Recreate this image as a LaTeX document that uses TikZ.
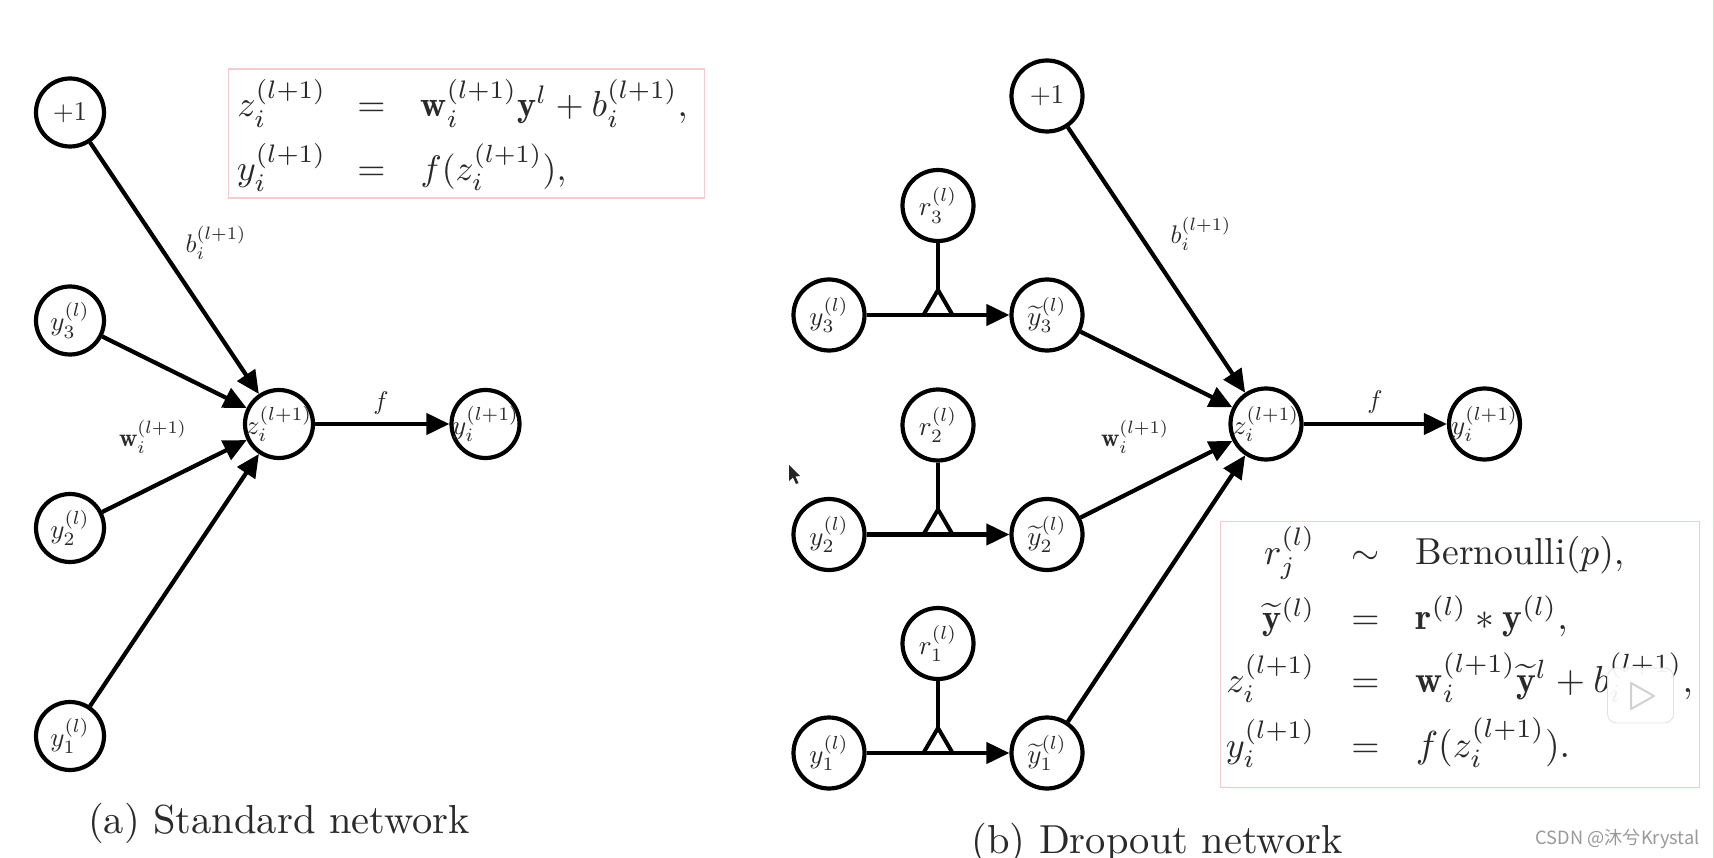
\documentclass[tikz,border=0pt]{standalone}
\usepackage{fontspec}
\usepackage{amsmath}
\usetikzlibrary{arrows.meta}
\newfontfamily\wmfont{Noto Sans CJK SC}
\definecolor{ink}{HTML}{2A2A2A}
\definecolor{boxpink}{HTML}{F6CBD0}
\tikzset{
  net/.style={circle,draw=black,line width=4.2pt,fill=white,minimum size=68pt,inner sep=0pt},
  lbl/.style={scale=2.7,text=ink,inner sep=0pt},
  conn/.style={line width=4.2pt,draw=black,-{Triangle[length=23pt,width=21pt]},shorten >=0pt},
  bar/.style={line width=4pt,draw=black},
  edgelabel/.style={scale=2.55,text=ink,inner sep=0pt},
  eqbox/.style={draw=boxpink,line width=1.4pt,fill=white},
  eql/.style={scale=3.62,text=ink,inner sep=0pt,anchor=base east},
  eqc/.style={scale=3.62,text=ink,inner sep=0pt,anchor=base},
  eqr/.style={scale=3.62,text=ink,inner sep=0pt,anchor=base west},
  eqrb/.style={scale=3.76,text=ink,inner sep=0pt,anchor=base west},
  captxt/.style={scale=4.05,text=ink,inner sep=0pt,anchor=base},
}
\begin{document}
\begin{tikzpicture}[x=1pt,y=-1pt]
\useasboundingbox (0,0) rectangle (1714,858);
\fill[white] (0,0) rectangle (1714,858);
\fill[green!35!white] (1712.5,0) rectangle (1714,858);
% left network
\node[net,label={[lbl]center:$+1$}] (aone) at (70,112.5) {};
\node[net,label={[lbl]center:$y_3^{(l)}$}] (ay3) at (70,320.5) {};
\node[net,label={[lbl]center:$y_2^{(l)}$}] (ay2) at (70,528) {};
\node[net,label={[lbl]center:$y_1^{(l)}$}] (ay1) at (70,736) {};
\node[net,label={[lbl]center:$z_i^{(l+1)}$}] (az) at (279,424) {};
\node[net,label={[lbl]center:$y_i^{(l+1)}$}] (ayi) at (485.5,424) {};
\draw[conn] (aone) -- (az);
\draw[conn] (ay3) -- (az);
\draw[conn] (ay2) -- (az);
\draw[conn] (ay1) -- (az);
\draw[conn] (az) -- (ayi);
\node[edgelabel] (ab) at (216,243) {$b_i^{(l+1)}$};
\node[edgelabel] (aw) at (153,437) {$\mathbf{w}_i^{(l+1)}$};
\node[edgelabel] (af) at (381,403) {$f$};
% left equations
\node[eqbox,minimum width=476pt,minimum height=129pt,anchor=north west] (abox) at (227.5,68.5) {};
\node[eql] (a1l) at (327,117) {$z_i^{(l+1)}$};
\node[eqc] (a1c) at (371.5,117) {$=$};
\node[eqr] (a1r) at (420,117) {$\mathbf{w}_i^{(l+1)}\mathbf{y}^l+b_i^{(l+1)},$};
\node[eql] (a2l) at (327,181) {$y_i^{(l+1)}$};
\node[eqc] (a2c) at (371.5,181) {$=$};
\node[eqr,scale=.98] (a2r) at (420,181) {$f(z_i^{(l+1)}),$};
\node[captxt] (acap) at (279,833) {(a) Standard network};
% right network
\node[net,minimum size=71pt,label={[lbl]center:$+1$}] (bone) at (1047,96) {};
\foreach \n/\yy in {3/315,2/534.5,1/753}{
  \node[net,minimum size=71pt,label={[lbl]center:$y_\n^{(l)}$}] (by\n) at (829,\yy) {};
  \node[net,minimum size=71pt,label={[lbl]center:$\widetilde{y}_\n^{(l)}$}] (bt\n) at (1047,\yy) {};
  \node[net,minimum size=71pt,label={[lbl]center:$r_\n^{(l)}$}] (br\n) at (938,\yy-109.5) {};
  \coordinate (tip\n) at (938,\yy-25);
  \coordinate (bl\n) at (924,\yy-1);
  \coordinate (brt\n) at (952,\yy-1);
  \draw[conn] (by\n) -- (bt\n);
  \draw[bar] (br\n) -- (tip\n);
  \draw[bar,line join=miter] (bl\n) -- (tip\n) -- (brt\n);
}
\node[net,minimum size=71pt,label={[lbl]center:$z_i^{(l+1)}$}] (bz) at (1266,424) {};
\node[net,minimum size=71pt,label={[lbl]center:$y_i^{(l+1)}$}] (byi) at (1484.5,424) {};
\draw[conn] (bone) -- (bz);
\draw[conn] (bt3) -- (bz);
\draw[conn] (bt2) -- (bz);
\draw[conn] (bt1) -- (bz);
\draw[conn] (bz) -- (byi);
\node[edgelabel] (bb) at (1201,234) {$b_i^{(l+1)}$};
\node[edgelabel] (bw) at (1135,437) {$\mathbf{w}_i^{(l+1)}$};
\node[edgelabel] (bf) at (1375,402) {$f$};
% right equations
\node[eqbox,minimum width=479pt,minimum height=266pt,anchor=north west] (bbox) at (1219.5,520.5) {};
\node[eql] (b1l) at (1316,564) {$r_j^{(l)}$};
\node[eqc] (b1c) at (1365.5,564) {$\sim$};
\node[eqrb] (b1r) at (1415,564) {$\mathrm{Bernoulli}(p),$};
\node[eql] (b2l) at (1316,629.5) {$\widetilde{\mathbf{y}}^{(l)}$};
\node[eqc] (b2c) at (1365.5,629.5) {$=$};
\node[eqrb] (b2r) at (1415,629.5) {$\mathbf{r}^{(l)}*\mathbf{y}^{(l)},$};
\node[eql] (b3l) at (1316,692) {$z_i^{(l+1)}$};
\node[eqc] (b3c) at (1365.5,692) {$=$};
\node[eqrb] (b3r) at (1415,692) {$\mathbf{w}_i^{(l+1)}\widetilde{\mathbf{y}}^l+b_i^{(l+1)},$};
\node[eql] (b4l) at (1316,757) {$y_i^{(l+1)}$};
\node[eqc] (b4c) at (1365.5,757) {$=$};
\node[eqrb] (b4r) at (1415,757) {$f(z_i^{(l+1)}).$};
\node[captxt] (bcap) at (1157,853) {(b) Dropout network};
% overlays
\node[draw=black!12,line width=.8pt,fill=white,fill opacity=.92,rounded corners=9pt,minimum width=66pt,minimum height=55pt,inner sep=0pt] (play) at (1640.5,695.5) {};
\draw[black!18,line width=2pt,fill=white,line join=round] (1631,683) -- (1654,696) -- (1631,709) -- cycle;
\fill[black!85] (789,465) -- (789,481) -- (793,477.5) -- (796,484) -- (798.5,483) -- (795.5,476.5) -- (800,476) -- cycle;
\node[text=black!40,font=\wmfont\fontsize{18.2}{18.2}\selectfont,inner sep=0pt,anchor=east] (wm) at (1700,839) {CSDN @沐兮Krystal};
\end{tikzpicture}
\end{document}
